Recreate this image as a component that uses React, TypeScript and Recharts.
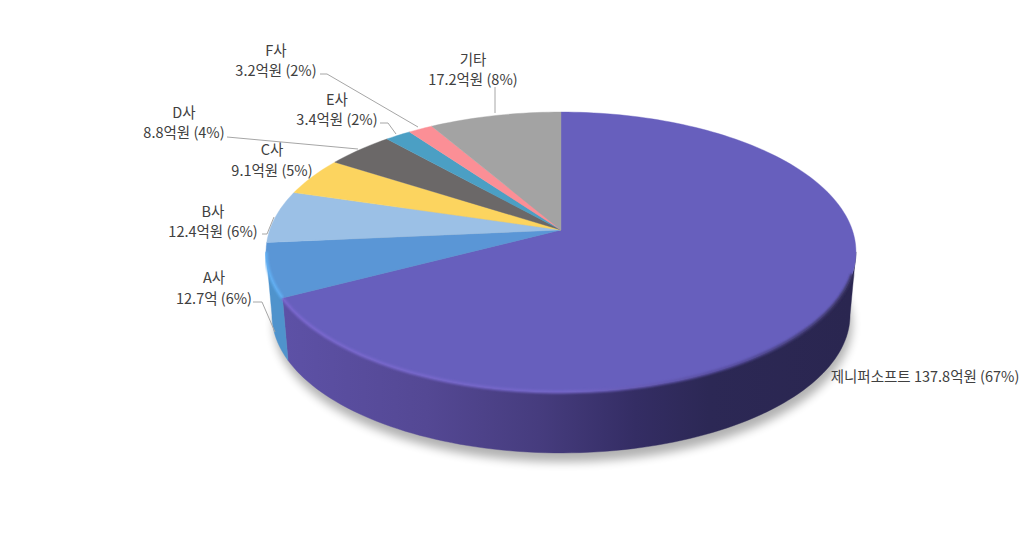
import { PieChart, Pie, Cell } from "recharts";

const CATEGORIES = ["제니퍼소프트", "A사", "B사", "C사", "D사", "E사", "F사", "기타"];
const REVENUE = [137.8, 12.7, 12.4, 9.1, 8.8, 3.4, 3.2, 17.2];
const SHARE_LABELS = [
  "137.8억원 (67%)",
  "12.7억 (6%)",
  "12.4억원 (6%)",
  "9.1억원 (5%)",
  "8.8억원 (4%)",
  "3.4억원 (2%)",
  "3.2억원 (2%)",
  "17.2억원 (8%)",
];

const TOP_COLORS = ["#675fbd", "#5a96d6", "#9bc0e6", "#fcd45f", "#6b6868", "#4b9fc4", "#fb8f96", "#a3a3a3"];
const RIM_COLORS = ["url(#rimPurple)", "#62b0f4", "#b4d2ef", "#fcd45f", "#6b6868", "#4b9fc4", "#fb8f96", "#a3a3a3"];
const WALL_COLORS = ["url(#wallPurple)", "#4f93cc", "#9bc0e6", "#fcd45f", "#6b6868", "#4b9fc4", "#fb8f96", "#a3a3a3"];

const chartData = CATEGORIES.map((name, i) => ({ name, value: REVENUE[i] }));
const wholePie = [{ name: "all", value: REVENUE.reduce((a, b) => a + b, 0) }];

// the original is a tilted 3D pie, so the circle gets a perspective projection
const PERSPECTIVE = 0.157;
const RADIUS_X = 291.3;
const RADIUS_Y = 136.5;
const WALL_DROP = 63;
const WALL_SHRINK_X = 0.98;
const WALL_SHRINK_Y = 0.986;
const MID_Y_OFFSET = 22;
// where the ellipse outline turns away from the viewer
const WALL_FROM = 99;
const WALL_TO = 261;

function project(cx: number, cy: number, theta: number) {
  const rad = (theta * Math.PI) / 180;
  const w = 1 + PERSPECTIVE * Math.cos(rad);
  return {
    x: cx + (RADIUS_X * Math.sin(rad)) / w,
    y: cy - (RADIUS_Y * Math.cos(rad)) / w,
  };
}

function projectBottom(cx: number, cy: number, theta: number) {
  const p = project(cx, cy, theta);
  const midY = cy + MID_Y_OFFSET;
  return {
    x: cx + (p.x - cx) * WALL_SHRINK_X,
    y: midY + WALL_DROP + (p.y - midY) * WALL_SHRINK_Y,
  };
}

function arc(from: number, to: number, fn: (t: number) => { x: number; y: number }) {
  const steps = Math.max(2, Math.ceil(Math.abs(to - from) / 1.5));
  const pts = [];
  for (let i = 0; i <= steps; i++) {
    const p = fn(from + ((to - from) * i) / steps);
    pts.push(`${p.x.toFixed(2)} ${p.y.toFixed(2)}`);
  }
  return pts;
}

const toTheta = (angle: number) => 90 - angle;

function TopSector(props: any) {
  const { cx, cy, startAngle, endAngle, fill } = props;
  const pts = arc(toTheta(startAngle), toTheta(endAngle), (t) => project(cx, cy, t));
  return <path d={`M${cx} ${cy} L${pts.join(" L")} Z`} fill={fill} stroke={fill} strokeWidth={0.4} />;
}

function WallSector(props: any) {
  const { cx, cy, startAngle, endAngle, fill } = props;
  const from = Math.max(toTheta(startAngle), WALL_FROM);
  const to = Math.min(toTheta(endAngle), WALL_TO);
  if (to <= from) return null;
  const top = arc(from, to, (t) => project(cx, cy, t));
  const bottom = arc(to, from, (t) => projectBottom(cx, cy, t));
  return <path d={`M${top.join(" L")} L${bottom.join(" L")} Z`} fill={fill} stroke={fill} strokeWidth={0.4} />;
}

function RimSector(props: any) {
  const { cx, cy, startAngle, endAngle, fill } = props;
  const from = Math.max(toTheta(startAngle), WALL_FROM + 9);
  const to = Math.min(toTheta(endAngle), WALL_TO);
  if (to <= from) return null;
  const pts = arc(from, to, (t) => project(cx, cy, t));
  return <path d={`M${pts.join(" L")}`} fill="none" stroke={fill} strokeWidth={3} filter="url(#soft)" />;
}

function ShadowSector(props: any) {
  const { cx, cy } = props;
  const pts = arc(0, 360, (t) => projectBottom(cx, cy, t));
  return (
    <path
      d={`M${pts.join(" L")} Z`}
      fill="#000"
      opacity={0.3}
      transform="translate(2 9)"
      filter="url(#shadowBlur)"
    />
  );
}

// label spots and leader lines
const LABEL_ROWS = [
  { x: 925, y: 375.5, line: null },
  { x: 214, y: 276.5, y2: 297.5, line: "253,302 262,302 275,332" },
  { x: 213, y: 210.5, y2: 230.5, line: "262,234 267,234 274,217" },
  { x: 272, y: 148.5, y2: 169.5, line: null },
  { x: 184, y: 111.5, y2: 131.5, line: "227,137 358,149" },
  { x: 337, y: 98.5, y2: 118.5, line: "380,123 388,123 396,134" },
  { x: 276, y: 49.5, y2: 69.5, line: "320,74 327,74 418,127" },
  { x: 473, y: 58.5, y2: 78.5, line: "495,87 495,113" },
];

const labelText = {
  fontFamily: "'Noto Sans CJK KR', 'Noto Sans', sans-serif",
  fontSize: 14.5,
  fill: "#404040",
};

function renderLabel(props: any) {
  const i = props.index;
  const row = LABEL_ROWS[i];
  if (i === 0) {
    return (
      <text x={row.x} y={row.y} textAnchor="middle" dominantBaseline="central" {...labelText}>
        {`${CATEGORIES[i]} ${SHARE_LABELS[i]}`}
      </text>
    );
  }
  return (
    <g>
      {row.line && <polyline points={row.line} fill="none" stroke="#a6a6a6" strokeWidth={1} />}
      <text x={row.x} y={row.y} textAnchor="middle" dominantBaseline="central" {...labelText}>
        {CATEGORIES[i]}
      </text>
      <text x={row.x} y={row.y2} textAnchor="middle" dominantBaseline="central" {...labelText}>
        {SHARE_LABELS[i]}
      </text>
    </g>
  );
}

const pieProps = {
  dataKey: "value",
  nameKey: "name",
  cx: 561,
  cy: 230,
  outerRadius: 295,
  startAngle: 90,
  endAngle: -270,
  isAnimationActive: false,
  labelLine: false,
  stroke: "none",
};

export default function App() {
  return (
    <div style={{ position: "absolute", left: 0, top: 0, width: 1024, height: 538, background: "#fff" }}>
      <PieChart width={1024} height={538} margin={{ top: 0, right: 0, bottom: 0, left: 0 }}>
        <defs>
          <linearGradient id="wallPurple" gradientUnits="userSpaceOnUse" x1="285" y1="0" x2="850" y2="0">
            <stop offset="0" stopColor="#5d51a6" />
            <stop offset="0.25" stopColor="#544894" />
            <stop offset="0.45" stopColor="#463c7e" />
            <stop offset="0.62" stopColor="#342d64" />
            <stop offset="0.75" stopColor="#2c2855" />
            <stop offset="1" stopColor="#2a2650" />
          </linearGradient>
          <linearGradient id="rimPurple" gradientUnits="userSpaceOnUse" x1="285" y1="0" x2="850" y2="0">
            <stop offset="0" stopColor="#7a68cf" />
            <stop offset="0.5" stopColor="#7466c8" />
            <stop offset="0.8" stopColor="#544b9c" />
            <stop offset="1" stopColor="#38335f" />
          </linearGradient>
          <filter id="soft" x="-5%" y="-5%" width="110%" height="110%">
            <feGaussianBlur stdDeviation="1.2" />
          </filter>
          <filter id="shadowBlur" x="-10%" y="-10%" width="120%" height="120%">
            <feGaussianBlur stdDeviation="5" />
          </filter>
        </defs>
        <Pie {...pieProps} data={wholePie} shape={ShadowSector} />
        <Pie {...pieProps} data={chartData} shape={WallSector}>
          {chartData.map((d, i) => (
            <Cell key={d.name} fill={WALL_COLORS[i]} />
          ))}
        </Pie>
        <Pie {...pieProps} data={chartData} shape={TopSector}>
          {chartData.map((d, i) => (
            <Cell key={d.name} fill={TOP_COLORS[i]} />
          ))}
        </Pie>
        <Pie {...pieProps} data={chartData} shape={RimSector} label={renderLabel}>
          {chartData.map((d, i) => (
            <Cell key={d.name} fill={RIM_COLORS[i]} />
          ))}
        </Pie>
      </PieChart>
    </div>
  );
}
